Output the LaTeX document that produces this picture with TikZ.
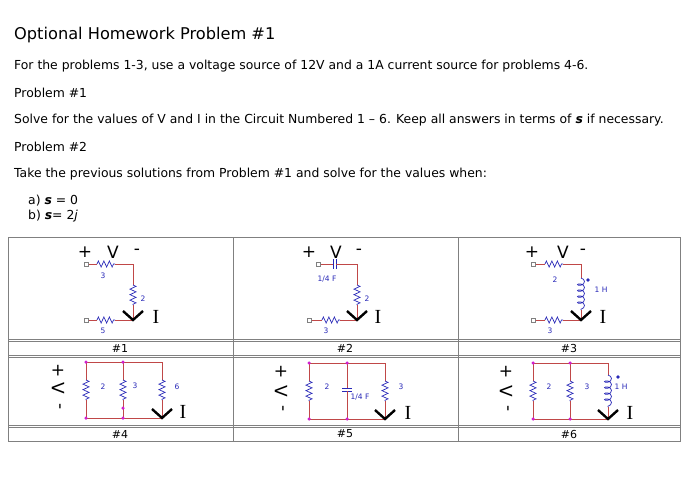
\documentclass[tikz,border=0pt]{standalone}
\usepackage{fontspec}
\setmainfont{DejaVu Sans}
\newfontfamily\serifI{Liberation Serif}
\usetikzlibrary{decorations.pathmorphing}
\definecolor{wirec}{HTML}{C04848}
\definecolor{compc}{HTML}{2828B8}
\definecolor{dotc}{HTML}{D020D0}
\definecolor{gridc}{HTML}{808080}
\tikzset{
 txt/.style={anchor=west,inner sep=0,font=\fontsize{12.4}{14}\selectfont},
 wire/.style={draw=wirec,line width=0.7pt},
 res/.style={draw=compc,line width=0.7pt,decorate,decoration={zigzag,amplitude=3pt,segment length=5.5pt}},
 ind/.style={draw=compc,line width=0.7pt,decorate,decoration={coil,aspect=0.6,amplitude=3.5pt,segment length=6pt}},
 capline/.style={draw=compc,line width=0.7pt},
 term/.style={draw=gray,fill=white,minimum size=4.5pt,inner sep=0,line width=0.5pt},
 jdot/.style={circle,fill=dotc,inner sep=0,minimum size=3.5pt},
 clab/.style={font=\fontsize{7.5}{8}\selectfont,text=compc,inner sep=0},
 big/.style={font=\fontsize{17}{18}\selectfont,inner sep=0},
 Ilab/.style={font=\serifI\fontsize{20}{20}\selectfont,inner sep=0},
 chev/.style={draw=black,line width=2.4pt},
 grid/.style={draw=gridc,line width=0.8pt},
 num/.style={font=\fontsize{11}{12}\selectfont,inner sep=0}
}
\begin{document}
\begin{tikzpicture}[x=1pt,y=-1pt]
\useasboundingbox (0,0) rectangle (700,481);
\fill[white] (0,0) rectangle (700,481);
% texts
\node[txt,font=\fontsize{16.2}{18}\selectfont] (title) at (14,35) {Optional Homework Problem \#1};
\node[txt] (t1) at (14,66) {For the problems 1-3, use a voltage source of 12V and a 1A current source for problems 4-6.};
\node[txt] (t2) at (14,93) {Problem \#1};
\node[txt] (t3) at (14,120) {Solve for the values of V and I in the Circuit Numbered 1 -- 6. Keep all answers in terms of \textbf{\textit{s}} if necessary.};
\node[txt] (t4) at (14,147) {Problem \#2};
\node[txt] (t5) at (14,174) {Take the previous solutions from Problem \#1 and solve for the values when:};
\node[txt] (t6) at (28,201) {a) \textbf{\textit{s}} = 0};
\node[txt] (t7) at (28,216) {b) \textbf{\textit{s}}= 2\textit{j}};
% table
\draw[grid] (8,237) rectangle (680,441);
\foreach \y in {339,355,425} {\draw[grid] (8,\y) -- (680,\y); \draw[grid] (8,\y+2) -- (680,\y+2);}
\draw[grid] (233,237) -- (233,441);
\draw[grid] (458,237) -- (458,441);
\node[num] (n1) at (120,348) {\#1};
\node[num] (n2) at (345,348) {\#2};
\node[num] (n3) at (569,348) {\#3};
\node[num] (n4) at (120,434) {\#4};
\node[num] (n5) at (345,434) {\#5};
\node[num] (n6) at (569,434) {\#6};

% ---------- circuit 1
\node[big] (p1) at (85,252) {+}; \node[big] (v1) at (113,252) {V}; \node[big] (m1) at (137,252) {-};
\node[term] (a1) at (86,264) {}; \node[term] (b1) at (86,320) {};
\coordinate (c1) at (133,264); \coordinate (d1) at (133,320);
\draw[wire] (a1) -- (97,264); \draw[res] (97,264) -- (115,264); \draw[wire] (115,264) -- (c1) -- (133,285);
\draw[res] (133,285) -- (133,305); \draw[wire] (133,305) -- (d1);
\draw[wire] (b1) -- (97,320); \draw[res] (97,320) -- (115,320); \draw[wire] (115,320) -- (d1);
\node[clab] at (103,276) {3}; \node[clab] at (143,299) {2}; \node[clab] at (103,331) {5};
\draw[chev] (123,311) -- (d1) -- (143,311);
\node[Ilab] (i1) at (156,317) {I};

% ---------- circuit 2
\node[big] (p2) at (309,252) {+}; \node[big] (v2) at (336,252) {V}; \node[big] (m2) at (359,252) {-};
\node[term] (a2) at (318,264) {}; \node[term] (b2) at (309,320) {};
\coordinate (c2) at (357,264); \coordinate (d2) at (357,320);
\draw[wire] (a2) -- (333,264); \draw[capline] (333,259) -- (333,269) (336,259) -- (336,269); \draw[wire] (336,264) -- (c2) -- (357,285);
\draw[res] (357,285) -- (357,305); \draw[wire] (357,305) -- (d2);
\draw[wire] (b2) -- (322,320); \draw[res] (322,320) -- (340,320); \draw[wire] (340,320) -- (d2);
\node[clab] at (327,279) {1/4 F}; \node[clab] at (367,299) {2}; \node[clab] at (326,331) {3};
\draw[chev] (347,311) -- (d2) -- (367,311);
\node[Ilab] (i2) at (378,317) {I};

% ---------- circuit 3
\node[big] (p3) at (532,252) {+}; \node[big] (v3) at (563,252) {V}; \node[big] (m3) at (583,252) {-};
\node[term] (a3) at (533,264) {}; \node[term] (b3) at (533,320) {};
\coordinate (c3) at (581,264); \coordinate (d3) at (581,320);
\draw[wire] (a3) -- (545,264); \draw[res] (545,264) -- (563,264); \draw[wire] (563,264) -- (c3) -- (581,278);
\draw[ind] (581,278) -- (581,310); \draw[wire] (581,310) -- (d3);
\draw[wire] (b3) -- (545,320); \draw[res] (545,320) -- (563,320); \draw[wire] (563,320) -- (d3);
\fill[compc] (588,280) circle (1.8);
\node[clab] at (555,280) {2}; \node[clab] at (601,290) {1 H}; \node[clab] at (550,331) {3};
\draw[chev] (571,311) -- (d3) -- (591,311);
\node[Ilab] (i3) at (603,317) {I};

% ---------- circuit 4
\node[big,rotate=-90] (p4) at (58,371) {+}; \node[big,rotate=-90] (v4) at (58,388) {V}; \node[big,rotate=-90] (m4) at (58,407) {-};
\coordinate (t41) at (86,362); \coordinate (t42) at (123,362); \coordinate (t43) at (162,362);
\coordinate (b41) at (86,418); \coordinate (b42) at (123,418); \coordinate (b43) at (162,418);
\draw[wire] (t41) -- (t43) -- (162,380); \draw[wire] (b41) -- (b43);
\draw[wire] (t41) -- (86,380); \draw[res] (86,380) -- (86,400); \draw[wire] (86,400) -- (b41);
\draw[wire] (t42) -- (123,380); \draw[res] (123,380) -- (123,400); \draw[wire] (123,400) -- (b42);
\draw[res] (162,380) -- (162,400); \draw[wire] (162,400) -- (b43);
\foreach \p in {t41,t42,b41,b42} \node[jdot] at (\p) {};
\node[jdot] at (123,408) {};
\node[clab] at (103,387) {2}; \node[clab] at (135,386) {3}; \node[clab] at (177,387) {6};
\draw[chev] (152,409) -- (b43) -- (172,409);
\node[Ilab] (i4) at (183,412) {I};

% ---------- circuit 5
\node[big,rotate=-90] (p5) at (281,372) {+}; \node[big,rotate=-90] (v5) at (281,391) {V}; \node[big,rotate=-90] (m5) at (281,409) {-};
\coordinate (t51) at (309,363); \coordinate (t52) at (347,363); \coordinate (t53) at (385,363);
\coordinate (b51) at (309,419); \coordinate (b52) at (347,419); \coordinate (b53) at (385,419);
\draw[wire] (t51) -- (t53) -- (385,381); \draw[wire] (b51) -- (b53);
\draw[wire] (t51) -- (309,381); \draw[res] (309,381) -- (309,401); \draw[wire] (309,401) -- (b51);
\draw[wire] (t52) -- (347,388); \draw[capline] (342,388) -- (352,388) (342,391) -- (352,391); \draw[wire] (347,391) -- (b52);
\draw[res] (385,381) -- (385,401); \draw[wire] (385,401) -- (b53);
\foreach \p in {t51,t52,b51,b52} \node[jdot] at (\p) {};
\node[clab] at (327,387) {2}; \node[clab] at (360,397) {1/4 F}; \node[clab] at (401,387) {3};
\draw[chev] (375,410) -- (b53) -- (395,410);
\node[Ilab] (i5) at (408,413) {I};

% ---------- circuit 6
\node[big,rotate=-90] (p6) at (506,372) {+}; \node[big,rotate=-90] (v6) at (506,391) {V}; \node[big,rotate=-90] (m6) at (506,409) {-};
\coordinate (t61) at (533,363); \coordinate (t62) at (570,363); \coordinate (t63) at (608,363);
\coordinate (b61) at (533,419); \coordinate (b62) at (570,419); \coordinate (b63) at (608,419);
\draw[wire] (t61) -- (t63) -- (608,375); \draw[wire] (b61) -- (b63);
\draw[wire] (t61) -- (533,381); \draw[res] (533,381) -- (533,401); \draw[wire] (533,401) -- (b61);
\draw[wire] (t62) -- (570,381); \draw[res] (570,381) -- (570,401); \draw[wire] (570,401) -- (b62);
\draw[ind] (608,375) -- (608,407); \draw[wire] (608,407) -- (b63);
\fill[compc] (618,377) circle (1.8);
\foreach \p in {t61,t62,b61,b62} \node[jdot] at (\p) {};
\node[clab] at (549,387) {2}; \node[clab] at (587,387) {3}; \node[clab] at (621,387) {1 H};
\draw[chev] (598,410) -- (b63) -- (618,410);
\node[Ilab] (i6) at (630,413) {I};
\end{tikzpicture}
\end{document}
